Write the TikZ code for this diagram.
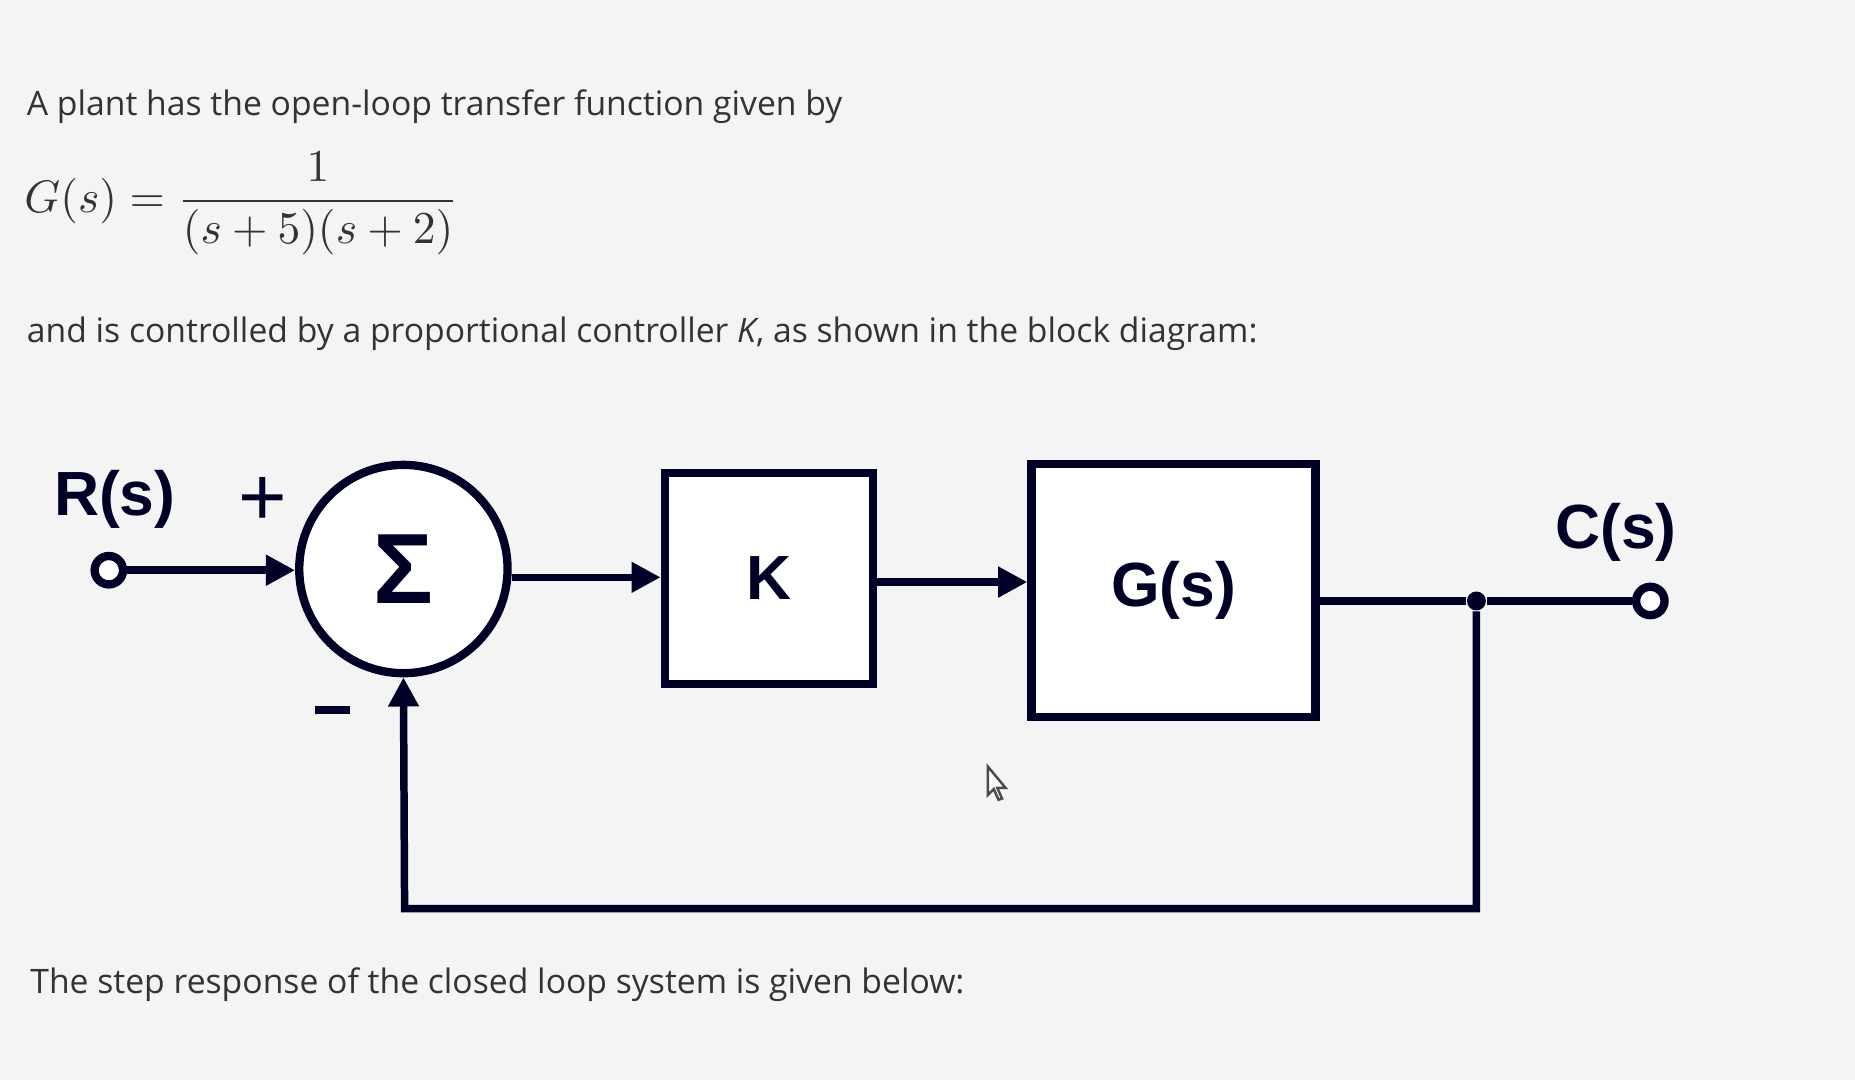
\documentclass[tikz,border=0pt]{standalone}
\usepackage{fontspec}
\setmainfont{Open Sans}
\newfontfamily\blk{Liberation Sans}
\usetikzlibrary{arrows.meta}
\begin{document}
\begin{tikzpicture}[x=0.01cm,y=-0.01cm,
  wire/.style={line width=1.8pt,draw=black!85!blue},
  arr/.style={wire,-{Triangle[length=7pt,width=7pt]}},
  blockbox/.style={draw=black!85!blue,line width=2pt,fill=white,inner sep=0pt},
  lab/.style={font=\blk\bfseries\fontsize{15}{15}\selectfont,text=black!85!blue},
  para/.style={anchor=west,inner sep=0pt,font=\fontsize{8.1}{10}\selectfont,text=black!80}]
\fill[gray!9] (0,0) rectangle (1568,913);
\useasboundingbox (0,0) rectangle (1568,913);
\node[para] (t1) at (22,90) {A plant has the open-loop transfer function given by};
\node[para,font=\fontsize{10.5}{12}\selectfont] (eq) at (20,172) {$G(s)=\displaystyle\frac{1}{(s+5)(s+2)}$};
\node[para] (t2) at (22,282) {and is controlled by a proportional controller \textit{K}, as shown in the block diagram:};
\node[para] (t3) at (25,832) {The step response of the closed loop system is given below:};
% diagram
\node[circle,draw=black!85!blue,line width=2pt,fill=white,minimum size=1.76cm,inner sep=0pt] (sum) at (341,481) {};
\node[font=\blk\bfseries\fontsize{24}{24}\selectfont,text=black!85!blue] (sig) at (sum) {Σ};
\node[circle,draw=black!85!blue,line width=2pt,fill=white,minimum size=0.24cm,inner sep=0pt] (in) at (92,482) {};
\node[blockbox,minimum width=1.76cm,minimum height=1.78cm] (K) at (650,489) {};
\node[lab] at (K) {K};
\node[blockbox,minimum width=2.40cm,minimum height=2.14cm] (G) at (992,499) {};
\node[lab] at (G) {G(s)};
\node[circle,draw=black!85!blue,line width=2pt,fill=white,minimum size=0.24cm,inner sep=0pt] (out) at (1395,508) {};
\node[circle,fill=black!85!blue,minimum size=0.16cm,inner sep=0pt] (dot) at (1248,508) {};
\coordinate (c1) at (1248,768);
\coordinate (c2) at (342,768);
\coordinate (m1) at (266,600);
\coordinate (m2) at (296,600);
\node[lab] (R) at (97,422) {R(s)};
\node[lab] (C) at (1366,450) {C(s)};
\node[lab,font=\blk\fontsize{20}{20}\selectfont] (plus) at (222,424) {+};
\draw[wire] (m1) -- (m2);
\draw[arr] (in) -- (sum.west |- in);
\draw[arr] (sum.east |- 0,488) -- (K.west |- 0,488);
\draw[arr] (K.east |- 0,492) -- (G.west |- 0,492);
\draw[wire] (G.east |- dot) -- (dot) -- (out);
\draw[arr] (dot) -- (c1) -- (c2) -- (sum.south);
% cursor
\draw[black!70,line width=0.6pt,fill=white] (835,648) -- (835,672) -- (840,667) -- (844,676) -- (847,675) -- (843,666) -- (850,666) -- cycle;
\end{tikzpicture}
\end{document}
